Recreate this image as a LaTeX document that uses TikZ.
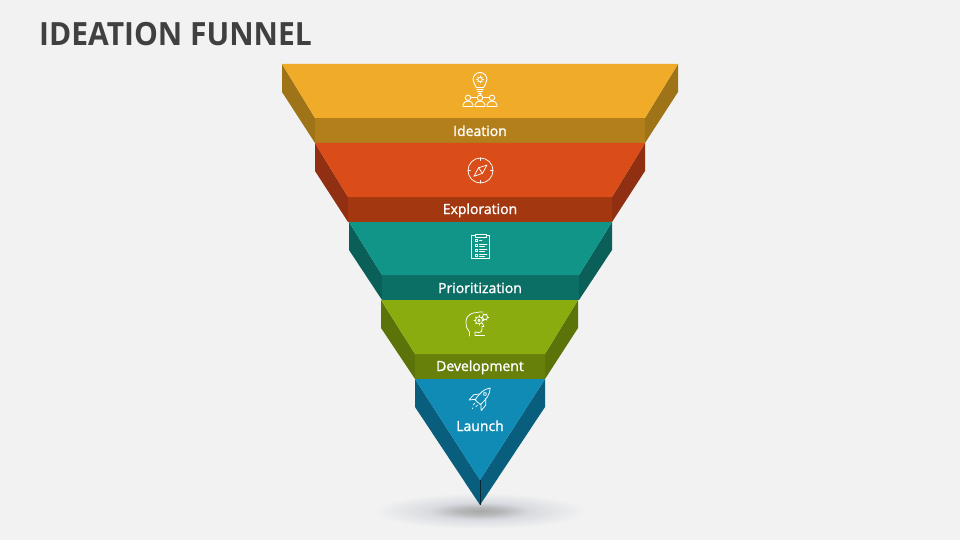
\documentclass[tikz,border=0pt]{standalone}
\usepackage{fontspec}
\setmainfont{Open Sans}
\newfontfamily\labfont[FakeBold=1.4]{Open Sans}
\definecolor{bgc}{HTML}{F2F2F2}
\definecolor{oA}{HTML}{F0AB28}\definecolor{oB}{HTML}{B37F1B}\definecolor{oC}{HTML}{9F7419}
\definecolor{rA}{HTML}{DA4C18}\definecolor{rB}{HTML}{A23710}\definecolor{rC}{HTML}{902F11}
\definecolor{tA}{HTML}{109588}\definecolor{tB}{HTML}{0B6F66}\definecolor{tC}{HTML}{0A6059}
\definecolor{gA}{HTML}{8AAC0F}\definecolor{gB}{HTML}{66800A}\definecolor{gC}{HTML}{5B7409}
\definecolor{bA}{HTML}{0F8BB5}\definecolor{bC}{HTML}{095E7D}
\definecolor{titlec}{HTML}{404040}
\definecolor{shA}{HTML}{A8A8A8}\definecolor{shB}{HTML}{D8DBE0}
\pgfdeclareradialshading{floorshadow}{\pgfpoint{0bp}{0bp}}{color(0bp)=(shA); color(5bp)=(shA!70!shB); color(12bp)=(shB); color(25bp)=(bgc); color(50bp)=(bgc)}
\tikzset{
 lab/.style={text=white,font=\labfont\fontsize{14}{16}\selectfont,inner sep=0pt,anchor=base},
 ico/.style={draw=white,line width=0.9pt,line cap=round,line join=round,fill=none},
 thin ico/.style={draw=white,line width=0.75pt,line cap=round,line join=round,fill=none}
}
\begin{document}
\begin{tikzpicture}[x=1pt,y=-1pt]
\useasboundingbox (0,0) rectangle (960,540);
\fill[bgc] (0,0) rectangle (960,540);
\node[anchor=west,inner sep=0pt,text=titlec,font=\fontsize{32}{36}\selectfont\bfseries,xscale=.938,transform shape] (title) at (39,34) {IDEATION FUNNEL};
% shadow
\shade[shading=floorshadow] (480,511) ellipse [x radius=106,y radius=18];
% level 1
\fill[oC] (282,64)--(315,118)--(315,143)--(282,92)--cycle;
\fill[oC] (678,64)--(645,118)--(645,143)--(678,92)--cycle;
\fill[oB] (315,118) rectangle (645,143);
\fill[oA] (282,64)--(678,64)--(645,118)--(315,118)--cycle;
% level 2
\fill[rC] (315,143)--(348,197)--(348,222)--(315,171)--cycle;
\fill[rC] (645,143)--(612,197)--(612,222)--(645,171)--cycle;
\fill[rB] (348,197) rectangle (612,222);
\fill[rA] (315,143)--(645,143)--(612,197)--(348,197)--cycle;
% level 3
\fill[tC] (349,222)--(382,275)--(382,300)--(349,250)--cycle;
\fill[tC] (612,222)--(579,275)--(579,300)--(612,250)--cycle;
\fill[tB] (382,275) rectangle (579,300);
\fill[tA] (349,222)--(612,222)--(579,275)--(382,275)--cycle;
% level 4
\fill[gC] (381,300)--(415,354)--(415,379)--(381,328)--cycle;
\fill[gC] (578,300)--(545,354)--(545,379)--(578,328)--cycle;
\fill[gB] (415,354) rectangle (545,379);
\fill[gA] (381,300)--(578,300)--(545,354)--(415,354)--cycle;
% level 5
\fill[bC] (415,379)--(480,480)--(480,505)--(415,407)--cycle;
\fill[bC] (545,379)--(480,480)--(480,505)--(545,407)--cycle;
\fill[bA] (415,379)--(545,379)--(480,480)--cycle;
\draw[black!60!bC,line width=0.6pt] (480,480)--(480,505);
% labels
\node[lab] (l1) at (480,136) {Ideation};
\node[lab] (l2) at (480,214) {Exploration};
\node[lab] (l3) at (480,293) {Prioritization};
\node[lab] (l4) at (480,371) {Development};
\node[lab] (l5) at (480,431) {Launch};
% icon 1: bulb with people
\draw[ico] (476.3,87.5) .. controls (475.5,84.5) and (473,83) .. (473,79.5) arc[start angle=180,end angle=360,radius=7] .. controls (487,83) and (484.5,84.5) .. (483.7,87.5) -- cycle;
\draw[thin ico] (480,79.5) circle[radius=2.2];
\foreach \a in {0,45,...,315}\draw[thin ico] (480,79.5)++(\a:2.2)--++(\a:1.3);
\draw[thin ico] (476.8,89.5)--(483.2,89.5) (477.5,91.5)--(482.5,91.5) (478.5,93)--(481.5,93);
\draw[thin ico] (480,93)--(480,95);
\foreach \x in {468,480,492}{
 \draw[ico] (\x,97.8) circle[radius=2.7];
 \draw[ico] (\x-5,106.5) -- (\x-5,105) arc[start angle=180,end angle=360,x radius=5,y radius=4] -- (\x+5,106.5) -- cycle;
}
\draw[thin ico] (470.7,97.5)--(477.3,97.5) (482.7,97.5)--(489.3,97.5);
% icon 2: compass
\draw[thin ico] (480.5,170.5) circle[radius=12.5];
\foreach \a in {0,90,180,270}\draw[thin ico] (480.5,170.5)++(\a:12.5)--++(\a:-2.5);
\draw[thin ico] (487,165)--(478.5,167.8)--(474,176.3)--(482.5,173.3)--cycle;
\draw[thin ico] (478.5,167.8)--(482.5,173.3);
% icon 3: clipboard
\draw[ico] (471.5,235.5) rectangle (489.3,258.7);
\draw[ico,fill=tA] (475.2,234) rectangle (486,237.2);
\foreach \y in {240.7,245.4,250.3,255}{
 \draw[ico] (475.5,\y-1) rectangle (477.7,\y+1);
}
\foreach \y in {245.4,250.3,255}{
 \draw[thin ico] (479.5,\y-.8)--(487,\y-.8);
 \draw[thin ico] (479.5,\y+1)--(484.5,\y+1);
}
\draw[thin ico] (479.5,240.7)--(482,240.7);
% icon 4: head with gears
\draw[thin ico] (469.5,336)--(469.5,332) .. controls (468,330) and (466,328) .. (466,322) .. controls (466,315) and (472,312.5) .. (477,312.5) .. controls (479,312) and (481,311.5) .. (483,312);
\draw[thin ico] (484.5,335.5) -- (475,335.5) -- (475,332) -- (479,332.5) .. controls (481,332.5) and (482,331.5) .. (482,329) -- (482,326.5) -- (484,326.5) -- (482.5,323.5);
\draw[thin ico] (479,320.3) circle[radius=3.6];
\draw[thin ico] (479,320.3) circle[radius=1.2];
\foreach \a in {0,45,...,315}\draw[thin ico] (479,320.3)++(\a:3.6)--++(\a:1.4);
\draw[thin ico] (485,317) circle[radius=2.6];
\foreach \a in {0,60,...,300}\draw[thin ico] (485,317)++(\a:2.6)--++(\a:1.2);
% icon 5: rocket
\begin{scope}[shift={(481,398.5)},rotate=-41]
\draw[thin ico] (0,-14) .. controls (4.2,-9) and (4.5,-3) .. (3.5,5) -- (-3.5,5) .. controls (-4.5,-3) and (-4.2,-9) .. (0,-14) -- cycle;
\draw[thin ico] (-3.6,-3) -- (-8,2) -- (-8,9) -- (-3.5,4);
\draw[thin ico] (3.6,-3) -- (8,2) -- (8,9) -- (3.5,4);
\draw[thin ico] (0,-6) circle[radius=1.7];
\draw[thin ico] (-1.6,7.5) -- (-1.6,10) (1.6,7.5) -- (1.6,9.5);
\draw[thin ico] (0,12.5)--(0,13.5);
\end{scope}
\end{tikzpicture}
\end{document}
